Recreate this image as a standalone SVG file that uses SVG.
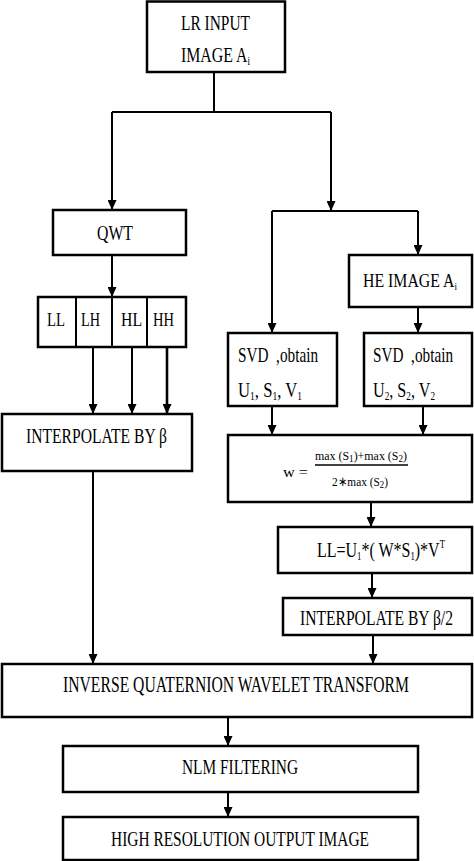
<svg xmlns="http://www.w3.org/2000/svg" width="474" height="861" viewBox="0 0 474 861">
<defs>
<marker id="ah" markerUnits="userSpaceOnUse" markerWidth="10" markerHeight="9" refX="10" refY="4.5" orient="auto">
<path d="M0,0 L10,4.5 L0,9 z" fill="#000"/>
</marker>
<style>
.box{fill:#fff;stroke:#000;stroke-width:2.5}
.ln{fill:none;stroke:#000;stroke-width:2}
.ar{fill:none;stroke:#000;stroke-width:2;marker-end:url(#ah)}
text{font-family:"Liberation Serif","Times New Roman",serif;fill:#000}
</style>
</defs>
<rect width="474" height="861" fill="#fff"/>
<g id="connectors">
<path class="ln" d="M214,72 V112 M112,112 H331"/>
<path class="ar" d="M112,112 V210"/>
<path class="ar" d="M331,112 V211"/>
<path class="ln" d="M272,211 H418"/>
<path class="ar" d="M272,211 V333"/>
<path class="ar" d="M418,211 V255"/>
<path class="ar" d="M112,255 V297"/>
<path class="ar" d="M93,347 V414"/>
<path class="ar" d="M132,347 V414"/>
<path class="ar" d="M167,347 V414" style="stroke-width:2.6"/>
<path class="ar" d="M93,471 V664"/>
<path class="ar" d="M418,307 V333"/>
<path class="ar" d="M272,406 V435"/>
<path class="ar" d="M423,406 V435"/>
<path class="ar" d="M371,502 V527"/>
<path class="ar" d="M372,573 V598"/>
<path class="ar" d="M373,635 V664"/>
<path class="ar" d="M228,717 V746"/>
<path class="ar" d="M228,792 V817"/>
</g>
<g id="lr-input">
<rect class="box" x="147" y="1.5" width="138" height="70.5"/>
<text x="181" y="30" font-size="21" textLength="69" lengthAdjust="spacingAndGlyphs">LR INPUT</text>
<text x="181" y="62" font-size="21" textLength="69" lengthAdjust="spacingAndGlyphs">IMAGE A<tspan font-size="12" dy="3">i</tspan></text>
</g>
<g id="qwt">
<rect class="box" x="53" y="210" width="133" height="45"/>
<text x="97" y="240" font-size="22" textLength="36" lengthAdjust="spacingAndGlyphs">QWT</text>
</g>
<g id="subbands">
<rect class="box" x="38" y="297" width="148" height="50"/>
<path class="ln" d="M76,297 V347 M112,297 V347 M147,297 V347"/>
<text x="47" y="326" font-size="19" textLength="18" lengthAdjust="spacingAndGlyphs">LL</text>
<text x="81" y="326" font-size="19" textLength="19" lengthAdjust="spacingAndGlyphs">LH</text>
<text x="121" y="326" font-size="19" textLength="21" lengthAdjust="spacingAndGlyphs">HL</text>
<text x="153" y="326" font-size="19" textLength="21" lengthAdjust="spacingAndGlyphs">HH</text>
</g>
<g id="interp-beta">
<rect class="box" x="2" y="414" width="190" height="57"/>
<text x="26" y="443" font-size="22" textLength="141" lengthAdjust="spacingAndGlyphs">INTERPOLATE BY β</text>
</g>
<g id="he-image">
<rect class="box" x="349" y="255" width="123" height="52"/>
<text x="363" y="287" font-size="19" textLength="94" lengthAdjust="spacingAndGlyphs">HE IMAGE A<tspan font-size="11" dy="3">i</tspan></text>
</g>
<g id="svd1">
<rect class="box" x="228" y="333" width="109" height="73"/>
<text x="238" y="362" font-size="21" textLength="80" lengthAdjust="spacingAndGlyphs" xml:space="preserve">SVD  ,obtain</text>
<text x="238" y="397" font-size="21" textLength="64" lengthAdjust="spacingAndGlyphs">U<tspan font-size="12" dy="3">1</tspan><tspan dy="-3">, S</tspan><tspan font-size="12" dy="3">1</tspan><tspan dy="-3">, V</tspan><tspan font-size="12" dy="3">1</tspan></text>
</g>
<g id="svd2">
<rect class="box" x="364" y="333" width="108" height="73"/>
<text x="373" y="362" font-size="21" textLength="80" lengthAdjust="spacingAndGlyphs" xml:space="preserve">SVD  ,obtain</text>
<text x="373" y="397" font-size="21" textLength="62" lengthAdjust="spacingAndGlyphs">U<tspan font-size="12" dy="3">2</tspan><tspan dy="-3">, S</tspan><tspan font-size="12" dy="3">2</tspan><tspan dy="-3">, V</tspan><tspan font-size="12" dy="3">2</tspan></text>
</g>
<g id="weight">
<rect class="box" x="228" y="435" width="244" height="67"/>
<text x="283" y="477" font-size="15" textLength="25" lengthAdjust="spacingAndGlyphs">w =</text>
<path class="ln" d="M315,465 H408" style="stroke-width:1.5"/>
<text x="315" y="460" font-size="13" textLength="92" lengthAdjust="spacingAndGlyphs">max (S<tspan font-size="10" dy="2">1</tspan><tspan dy="-2">)+max (S</tspan><tspan font-size="10" dy="2">2</tspan><tspan dy="-2">)</tspan></text>
<text x="332" y="486" font-size="13" textLength="56" lengthAdjust="spacingAndGlyphs">2∗max (S<tspan font-size="10" dy="2">2</tspan><tspan dy="-2">)</tspan></text>
</g>
<g id="ll-recon">
<rect class="box" x="278" y="527" width="194" height="46"/>
<text x="317" y="557" font-size="22" textLength="128" lengthAdjust="spacingAndGlyphs">LL=U<tspan font-size="12" dy="3">1</tspan><tspan dy="-3">*( W*S</tspan><tspan font-size="12" dy="3">1</tspan><tspan dy="-3">)*V</tspan><tspan font-size="12" dy="-9">T</tspan></text>
</g>
<g id="interp-beta2">
<rect class="box" x="283" y="598" width="189" height="37"/>
<text x="300" y="625" font-size="20" textLength="153" lengthAdjust="spacingAndGlyphs">INTERPOLATE BY β/2</text>
</g>
<g id="iqwt">
<rect class="box" x="2" y="664" width="470" height="53"/>
<text x="63" y="692" font-size="24" textLength="346" lengthAdjust="spacingAndGlyphs">INVERSE QUATERNION WAVELET TRANSFORM</text>
</g>
<g id="nlm">
<rect class="box" x="63" y="746" width="355" height="46"/>
<text x="182" y="774" font-size="22" textLength="116" lengthAdjust="spacingAndGlyphs">NLM FILTERING</text>
</g>
<g id="hr-output">
<rect class="box" x="63" y="817" width="355" height="43"/>
<text x="111" y="846" font-size="22" textLength="258" lengthAdjust="spacingAndGlyphs">HIGH RESOLUTION OUTPUT IMAGE</text>
</g>
</svg>
